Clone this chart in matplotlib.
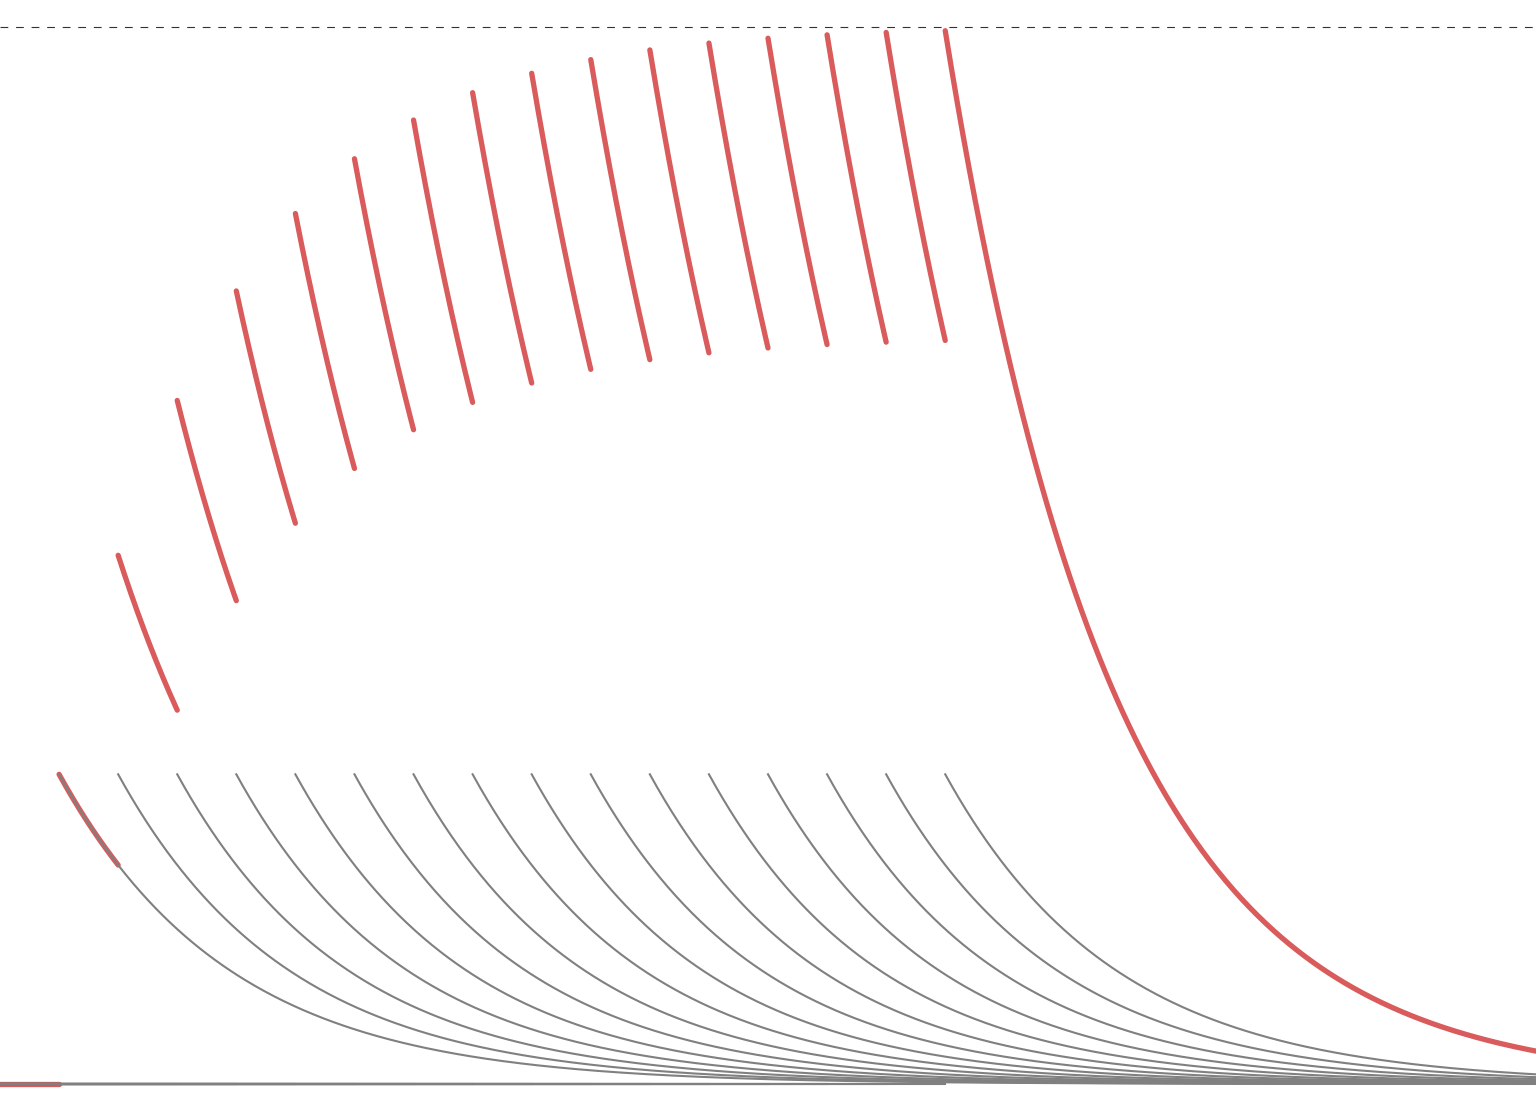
import numpy as np
import matplotlib
matplotlib.use("Agg")
import matplotlib.pyplot as plt

# Dosing schedule (in dosing intervals)
dose_times = [1, 2, 3, 4, 5, 6, 7, 8, 9, 10, 11, 12, 13, 14, 15, 16]
dose_amount = 1.0
half_life = 2.0
t_end = 26.0

k = np.log(2) / half_life
steady_state_max = dose_amount / (1 - np.exp(-k * 1.0))

fig = plt.figure(figsize=(15.36, 11.15), dpi=100)
ax = fig.add_axes([0, 0, 1, 1])
ax.set_xlim(0, t_end)
ax.set_ylim(-0.1, 3.5)
ax.axis("off")

red = "#d95b5b"
gray = "#808080"

def total(t, upto):
    c = np.zeros_like(t)
    for d in dose_times:
        if d <= upto:
            c += dose_amount * np.exp(-k * (t - d))
    return c

# accumulated concentration (red), drawn per interval
bounds = [0] + dose_times + [t_end]
for a, b in zip(bounds[:-1], bounds[1:]):
    t = np.linspace(a, b, 300)
    c = total(t, a)
    ax.plot(t, c, color=red, lw=3.8, solid_capstyle="round", zorder=2)

# individual doses (gray)
for d in dose_times:
    t0 = np.linspace(0, d, 50)
    ax.plot(t0, np.zeros_like(t0), color=gray, lw=1.5, zorder=3)
    t1 = np.linspace(d, t_end, 600)
    ax.plot(t1, dose_amount * np.exp(-k * (t1 - d)), color=gray, lw=1.5, zorder=3)

ax.axhline(steady_state_max, color="#333333", lw=0.8, dashes=(7, 7), zorder=1)

fig.savefig("out.png", dpi=100)
